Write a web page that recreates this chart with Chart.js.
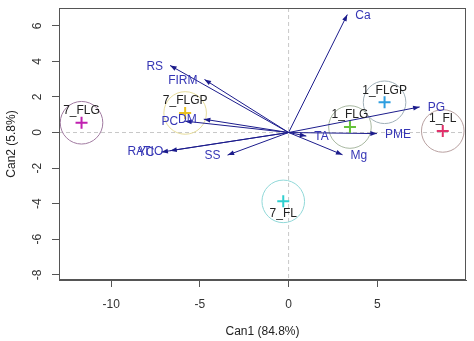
<!DOCTYPE html>
<html>
<head>
<meta charset="utf-8">
<script src="https://cdn.jsdelivr.net/npm/chart.js@4"></script>
<style>
  body { margin: 0; background: #fff; }
</style>
</head>
<body>
<canvas id="myChart" width="474" height="341"></canvas>
<script>
// group centroids on the first two canonical dimensions
var groups = ['1_FL', '1_FLG', '1_FLGP', '7_FL', '7_FLG', '7_FLGP'];
var can1 = [8.69, 3.46, 5.41, -0.30, -11.67, -5.83];
var can2 = [0.09, 0.31, 1.70, -3.87, 0.55, 1.10];
var circleRadius = 1.2;

// structure vectors of the response variables
var variables = ['Ca', 'RS', 'FIRM', 'DM', 'PC', 'RATIO', 'YC', 'SS', 'TA', 'Mg', 'PME', 'PG'];
var vecX = [3.31, -6.68, -4.74, -4.78, -5.83, -6.67, -7.17, -3.44, 1.00, 3.04, 4.98, 7.39];
var vecY = [6.63, 3.77, 2.98, 0.75, 0.64, -1.02, -1.10, -1.27, -0.20, -1.25, -0.06, 1.44];

var xTicks = [-10, -5, 0, 5];
var yTicks = [-8, -6, -4, -2, 0, 2, 4, 6];

var crossColors = ['#e0306a', '#66c23a', '#2e9ee0', '#30d0d0', '#c020b0', '#e8c020'];
var ringColors = ['#b8a0a0', '#a8b8a0', '#a0b0b8', '#90d8d8', '#a07aa0', '#e6dc9a'];
var FONT = '"Liberation Sans", Arial, sans-serif';

function drawArrow(ctx, x0, y0, x1, y1) {
    var ang = Math.atan2(y1 - y0, x1 - x0);
    ctx.beginPath();
    ctx.moveTo(x0, y0);
    ctx.lineTo(x1, y1);
    ctx.stroke();
    ctx.beginPath();
    ctx.moveTo(x1, y1);
    ctx.lineTo(x1 - 7 * Math.cos(ang - 0.35), y1 - 7 * Math.sin(ang - 0.35));
    ctx.lineTo(x1 - 7 * Math.cos(ang + 0.35), y1 - 7 * Math.sin(ang + 0.35));
    ctx.closePath();
    ctx.fill();
}

var biplotLayer = {
    id: 'biplotLayer',
    beforeDatasetsDraw(chart) {
        var ctx = chart.ctx, a = chart.chartArea;
        var xs = chart.scales.x, ys = chart.scales.y;
        var x0 = xs.getPixelForValue(0), y0 = ys.getPixelForValue(0);
        ctx.save();
        // dashed reference lines through the origin
        ctx.strokeStyle = '#c8c8c8';
        ctx.lineWidth = 1;
        ctx.setLineDash([4, 3]);
        ctx.beginPath();
        ctx.moveTo(x0, a.top); ctx.lineTo(x0, a.bottom);
        ctx.moveTo(a.left, y0); ctx.lineTo(a.right, y0);
        ctx.stroke();
        ctx.setLineDash([]);
        // circles round the centroids
        groups.forEach(function (g, i) {
            var cx = xs.getPixelForValue(can1[i]);
            var cy = ys.getPixelForValue(can2[i]);
            var r = xs.getPixelForValue(can1[i] + circleRadius) - cx;
            ctx.strokeStyle = ringColors[i];
            ctx.beginPath();
            ctx.arc(cx, cy, r, 0, 2 * Math.PI);
            ctx.stroke();
        });
        // variable vectors
        ctx.strokeStyle = '#1c1c8c';
        ctx.fillStyle = '#1c1c8c';
        variables.forEach(function (v, i) {
            drawArrow(ctx, x0, y0, xs.getPixelForValue(vecX[i]), ys.getPixelForValue(vecY[i]));
        });
        ctx.restore();
    },
    afterDraw(chart) {
        var ctx = chart.ctx, a = chart.chartArea;
        var xs = chart.scales.x, ys = chart.scales.y;
        ctx.save();
        // box round the plot region
        ctx.strokeStyle = '#555';
        ctx.lineWidth = 1;
        ctx.strokeRect(a.left + 0.5, a.top + 0.5, a.right - a.left - 1, a.bottom - a.top - 1);

        ctx.font = '12px ' + FONT;
        ctx.textBaseline = 'middle';

        // variable names beside the arrow tips
        ctx.fillStyle = '#3535b5';
        variables.forEach(function (v, i) {
            var px = xs.getPixelForValue(vecX[i]);
            var py = ys.getPixelForValue(vecY[i]);
            if (vecX[i] < 0) {
                ctx.textAlign = 'right';
                ctx.fillText(v, px - 7, py + 1);
            } else {
                ctx.textAlign = 'left';
                ctx.fillText(v, px + 8, py + 1);
            }
        });

        // group names
        ctx.fillStyle = '#222';
        ctx.textAlign = 'center';
        groups.forEach(function (g, i) {
            var px = xs.getPixelForValue(can1[i]);
            var py = ys.getPixelForValue(can2[i]);
            var dy = g === '7_FL' ? 12 : -12;
            ctx.fillText(g, px, py + dy);
        });

        // y tick labels, turned to run along the axis
        ctx.fillStyle = '#333';
        yTicks.forEach(function (t) {
            ctx.save();
            ctx.translate(38, ys.getPixelForValue(t));
            ctx.rotate(-Math.PI / 2);
            ctx.textAlign = 'center';
            ctx.fillText(String(t), 0, 0);
            ctx.restore();
        });
        ctx.restore();
    }
};

var ctx = document.getElementById('myChart').getContext('2d');
var chart = new Chart(ctx, {
    type: 'scatter',
    data: {
        datasets: [{
            label: 'centroids',
            data: groups.map(function (g, i) { return { x: can1[i], y: can2[i] }; }),
            pointStyle: 'cross',
            pointRadius: 6,
            pointBorderWidth: 2,
            borderColor: crossColors,
            backgroundColor: crossColors
        }]
    },
    options: {
        responsive: false,
        animation: false,
        devicePixelRatio: 1,
        layout: { padding: { left: 0, right: 2, top: 3, bottom: 0 } },
        plugins: {
            legend: { display: false },
            tooltip: { enabled: false }
        },
        scales: {
            x: {
                type: 'linear',
                min: -12.94,
                max: 10.0,
                afterBuildTicks: function (s) { s.ticks = xTicks.map(function (v) { return { value: v }; }); },
                afterFit: function (s) { s.height = 61; },
                grid: { drawOnChartArea: false, drawTicks: true, tickLength: 7, color: '#555' },
                border: { display: true, color: '#555' },
                ticks: { color: '#333', padding: 10, font: { size: 12, family: FONT } },
                title: { display: true, text: 'Can1 (84.8%)', color: '#222', font: { size: 12, family: FONT }, padding: { top: 4, bottom: 2 } }
            },
            y: {
                type: 'linear',
                min: -8.29,
                max: 7.0,
                afterBuildTicks: function (s) { s.ticks = yTicks.map(function (v) { return { value: v }; }); },
                afterFit: function (s) { s.width = 59; },
                grid: { drawOnChartArea: false, drawTicks: true, tickLength: 7, color: '#555' },
                border: { display: true, color: '#555' },
                ticks: { display: false },
                title: { display: true, text: 'Can2 (5.8%)', color: '#222', font: { size: 12, family: FONT }, padding: { top: 4, bottom: 4 } }
            }
        }
    },
    plugins: [biplotLayer]
});
</script>
</body>
</html>
